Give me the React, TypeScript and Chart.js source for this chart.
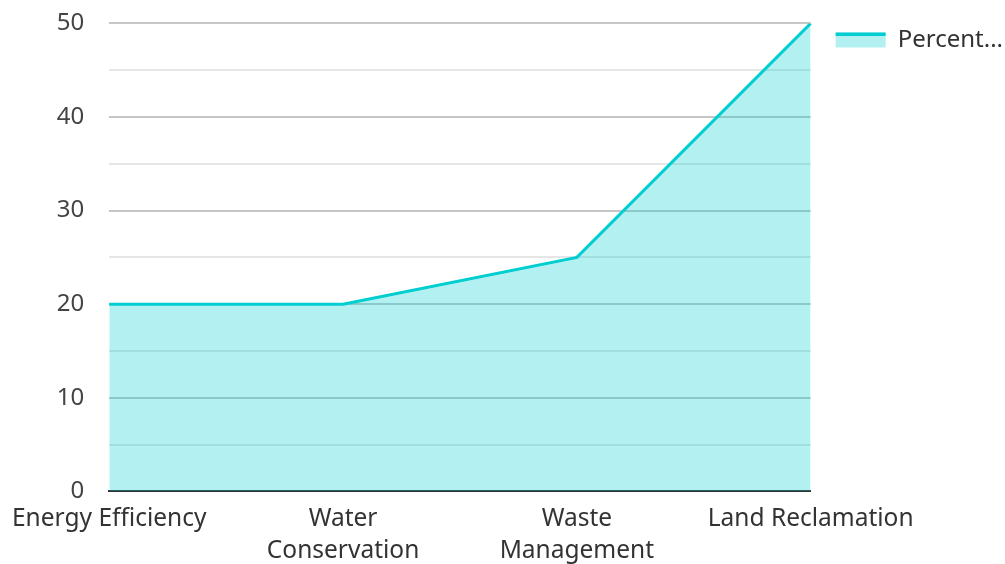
import React, { useEffect, useRef } from "react";
import { Chart, registerables } from "chart.js";

Chart.register(...registerables);

const categories: (string | string[])[] = [
  "Energy Efficiency",
  ["Water", "Conservation"],
  ["Waste", "Management"],
  "Land Reclamation",
];
const seriesLabel = "Percent...";
const seriesValues = [20, 20, 25, 50];
const yMin = 0;
const yMax = 50;
const yStep = 5;

const LINE = "#00CED1";

const legendLinePlugin = {
  id: "legendLine",
  afterDraw(chart: any) {
    const lg = chart.legend;
    if (!lg || !lg.legendHitBoxes) return;
    const ctx = chart.ctx;
    lg.legendHitBoxes.forEach((hb: any) => {
      const bw = lg.options.labels.boxWidth;
      const bh = lg.options.labels.boxHeight;
      const y = hb.top + (hb.height - bh) / 2;
      ctx.save();
      ctx.strokeStyle = LINE;
      ctx.lineWidth = 3.5;
      ctx.beginPath();
      ctx.moveTo(hb.left, y + 1.75);
      ctx.lineTo(hb.left + bw, y + 1.75);
      ctx.stroke();
      ctx.restore();
    });
  },
};

export default function App() {
  const ref = useRef<HTMLCanvasElement>(null);
  useEffect(() => {
    document.body.style.margin = "0";
    const ctx = ref.current!;
    const chart = new Chart(ctx, {
      type: "line",
      data: {
        labels: categories,
        datasets: [
          {
            label: seriesLabel,
            data: seriesValues,
            borderColor: LINE,
            backgroundColor: "rgba(0,206,209,0.3)",
            borderWidth: 3,
            fill: "origin",
            pointRadius: 0,
            tension: 0,
          },
        ],
      },
      options: {
        animation: false,
        responsive: false,
        maintainAspectRatio: false,
        layout: { padding: { left: 10, right: -8, top: 3, bottom: -15 } },
        plugins: {
          tooltip: { enabled: false },
          legend: {
            position: "right",
            align: "start",
            labels: {
              boxWidth: 50,
              boxHeight: 15,
              color: "#333",
              font: { family: "Noto Sans", size: 24 },
              padding: 25,
              generateLabels: (c: any) =>
                c.data.datasets.map((d: any, i: number) => ({
                  text: d.label,
                  fillStyle: d.backgroundColor,
                  strokeStyle: "rgba(0,0,0,0)",
                  lineWidth: 0,
                  hidden: false,
                  datasetIndex: i,
                  fontColor: "#333",
                })),
            },
          },
        },
        scales: {
          x: {
            offset: false,
            grid: { display: false, drawTicks: false },
            border: { display: true, color: "#333", width: 2 },
            ticks: {
              color: "#333",
              font: { family: "Noto Sans", size: 24.5, lineHeight: 1.3 },
              maxRotation: 0,
              autoSkip: false,
              padding: 12,
            },
          },
          y: {
            min: yMin,
            max: yMax,
            grid: {
              color: (c: any) =>
                c.tick && c.tick.value % 10 === 0 ? "#c6c6c6" : "#e6e6e6",
              lineWidth: 2,
              drawTicks: true,
              tickLength: 16,
              tickColor: "rgba(0,0,0,0)",
            },
            border: { display: false },
            ticks: {
              stepSize: yStep,
              color: "#444",
              font: { family: "Noto Sans", size: 24 },
              padding: 9,
              callback: (v: any) => (Number(v) % 10 === 0 ? String(v) : ""),
            },
          },
        },
      },
      plugins: [legendLinePlugin],
    });
    return () => chart.destroy();
  }, []);
  return (
    <div style={{ width: 1005, height: 564 }}>
      <canvas ref={ref} width={1005} height={564} />
    </div>
  );
}
